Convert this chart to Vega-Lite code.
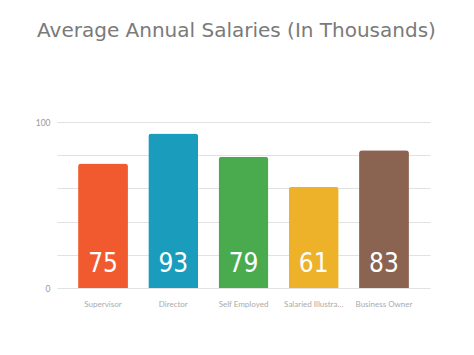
{
  "$schema": "https://vega.github.io/schema/vega-lite/v6.json",
  "width": 373,
  "height": 166,
  "autosize": "none",
  "padding": {"left": 57, "top": 122, "right": 44, "bottom": 67},
  "background": "white",
  "config": {
    "view": {"stroke": null},
    "axisY": {
      "title": null,
      "values": [0, 20, 40, 60, 80, 100],
      "labelExpr": "datum.value == 0 || datum.value == 100 ? datum.label : ''",
      "labelOverlap": false,
      "labelFont": "Lato",
      "labelFontSize": 8.5,
      "labelColor": "#999999",
      "labelPadding": 7,
      "ticks": false,
      "domain": false,
      "gridColor": "#e2e2e2",
      "gridWidth": 1
    }
  },
  "title": {
    "text": "Average Annual Salaries (In Thousands)",
    "font": "DejaVu Sans",
    "fontSize": 20,
    "fontWeight": "normal",
    "color": "#7a7a7a",
    "anchor": "middle",
    "frame": "group",
    "dx": -7,
    "offset": 77
  },
  "data": {
    "values": [
      {"role": "Supervisor", "salary": 75},
      {"role": "Director", "salary": 93},
      {"role": "Self Employed", "salary": 79},
      {"role": "Salaried Illustrator", "salary": 61},
      {"role": "Business Owner", "salary": 83}
    ]
  },
  "encoding": {
    "x": {
      "field": "role",
      "type": "nominal",
      "sort": null,
      "scale": {"paddingInner": 0.29, "paddingOuter": 0.3},
      "axis": {
        "title": null,
        "labelAngle": 0,
        "labelFont": "Lato",
        "labelFontSize": 8,
        "labelColor": "#aaaaaa",
        "labelLimit": 60,
        "labelPadding": 12,
        "ticks": false,
        "domain": false
      }
    }
  },
  "layer": [
    {
      "mark": {"type": "bar", "cornerRadiusTopLeft": 3, "cornerRadiusTopRight": 3},
      "encoding": {
        "y": {
          "field": "salary",
          "type": "quantitative",
          "scale": {"domain": [0, 100]},
          "axis": {"values": [0, 20, 40, 60, 80, 100]}
        },
        "color": {
          "field": "role",
          "type": "nominal",
          "sort": null,
          "scale": {
            "domain": ["Supervisor", "Director", "Self Employed", "Salaried Illustrator", "Business Owner"],
            "range": ["#F15A2F", "#1A9DBC", "#4AAB4E", "#EDB12A", "#8B6351"]
          },
          "legend": null
        }
      }
    },
    {
      "mark": {
        "type": "text",
        "color": "white",
        "font": "DejaVu Sans Condensed",
        "fontSize": 26,
        "fontWeight": 300,
        "baseline": "alphabetic",
        "dy": -16
      },
      "encoding": {
        "y": {"datum": 0, "type": "quantitative", "axis": {"values": [0, 20, 40, 60, 80, 100]}},
        "text": {"field": "salary", "type": "quantitative"}
      }
    }
  ]
}
